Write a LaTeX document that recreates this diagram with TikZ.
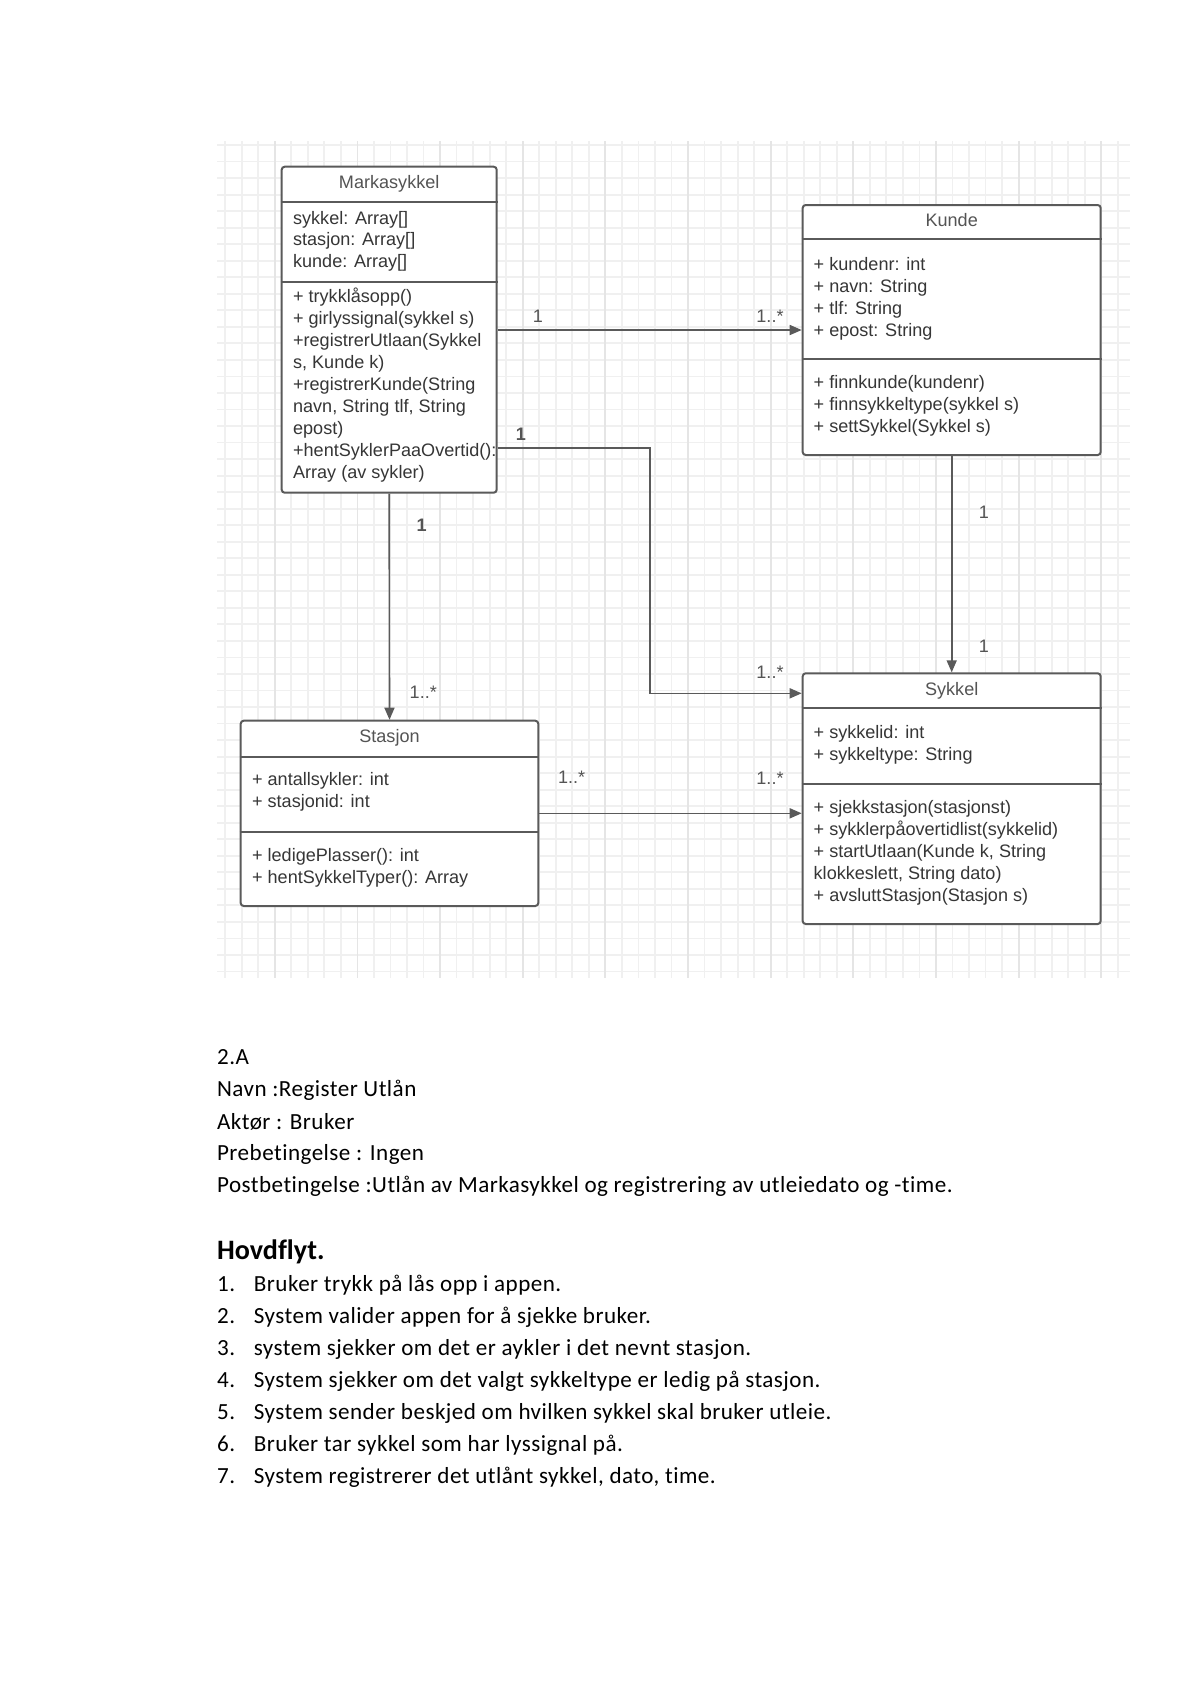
\documentclass[tikz,border=0pt]{standalone}
\usepackage{fontspec}
\setmainfont{Carlito}[Ligatures=NoCommon]
\newfontfamily\bodyfont{Carlito}[LetterSpace=2,Ligatures=NoCommon]
\newfontfamily\umlfont{Liberation Sans}
\usetikzlibrary{fit,arrows.meta}
\definecolor{gridminor}{HTML}{F0F0F0}
\definecolor{gridmajor}{HTML}{E5E5E5}
\definecolor{umlline}{HTML}{5A5A5A}
\definecolor{umltext}{HTML}{363636}

\begin{document}
\begin{tikzpicture}[x=0.0175cm,y=-0.0175cm]
\tikzstyle{classbox}=[draw=umlline,line width=1pt,fill=white,rounded corners=1.5pt,inner sep=0pt]
\tikzstyle{divider}=[draw=umlline,line width=1.1pt]
\tikzstyle{member}=[anchor=base west,inner sep=0pt,text=umltext,font=\umlfont\fontsize{9}{11}\selectfont]
\tikzstyle{classname}=[member,anchor=base,text=umltext!85]
\tikzstyle{multlabel}=[member,anchor=base,text=umltext!85]
\tikzstyle{assoc}=[draw=umlline,line width=0.8pt,-{Triangle[length=6pt,width=5pt]}]
\tikzstyle{doctext}=[anchor=base west,inner sep=0pt,font=\bodyfont\fontsize{11.5}{14}\selectfont]

\fill[white] (0,0) rectangle (1200,1698);
\useasboundingbox (0,0) rectangle (1200,1698);

\begin{scope}
\clip (217,141) rectangle (1130,978);
\foreach \i in {0,...,54} \draw[gridminor,line width=0.9pt] (225.17+16.53*\i,141) -- (225.17+16.53*\i,978);
\foreach \j in {0,...,50} \draw[gridminor,line width=0.9pt] (217,145+16.53*\j) -- (1130,145+16.53*\j);
\foreach \i in {3,8,...,53} \draw[gridmajor,line width=0.9pt] (225.17+16.53*\i,141) -- (225.17+16.53*\i,978);
\end{scope}

\node[classbox,fit={(281.7,166.7) (496.7,492.7)}] (markasykkel) {};
\node[classname] (markname) at (389.2,188.2) {Markasykkel};
\draw[divider] (markasykkel.west |- 0,201.7) -- (markasykkel.east |- 0,201.7);
\draw[divider] (markasykkel.west |- 0,281.7) -- (markasykkel.east |- 0,281.7);
\foreach \t [count=\i from 0] in {sykkel: Array[], stasjon: Array[], kunde: Array[]}
  \node[member] (markattr\i) at (292.7,224+21.7*\i) {\t};
\foreach \t [count=\i from 0] in {{+ trykklåsopp()}, {+ girlyssignal(sykkel s)}, {+registrerUtlaan(Sykkel}, {s, Kunde k)}, {+registrerKunde(String}, {navn, String tlf, String}, {epost)}, {+hentSyklerPaaOvertid():}, {Array (av sykler)}}
  \node[member] (markop\i) at (292.7,302.2+22*\i) {\t};

\node[classbox,fit={(802.7,205) (1100.7,455)}] (kunde) {};
\node[classname] (kundename) at (951.7,226.2) {Kunde};
\draw[divider] (kunde.west |- 0,239.3) -- (kunde.east |- 0,239.3);
\draw[divider] (kunde.west |- 0,359.3) -- (kunde.east |- 0,359.3);
\foreach \t [count=\i from 0] in {{+ kundenr: int}, {+ navn: String}, {+ tlf: String}, {+ epost: String}}
  \node[member] (kundeattr\i) at (813.3,270.5+22*\i) {\t};
\foreach \t [count=\i from 0] in {{+ finnkunde(kundenr)}, {+ finnsykkeltype(sykkel s)}, {+ settSykkel(Sykkel s)}}
  \node[member] (kundeop\i) at (813.3,388.8+22*\i) {\t};

\node[classbox,fit={(802.7,673.3) (1100.7,924)}] (sykkel) {};
\node[classname] (sykkelname) at (951.7,695.5) {Sykkel};
\draw[divider] (sykkel.west |- 0,708.3) -- (sykkel.east |- 0,708.3);
\draw[divider] (sykkel.west |- 0,784) -- (sykkel.east |- 0,784);
\foreach \t [count=\i from 0] in {{+ sykkelid: int}, {+ sykkeltype: String}}
  \node[member] (sykkelattr\i) at (813.3,738.2+22.5*\i) {\t};
\foreach \t [count=\i from 0] in {{+ sjekkstasjon(stasjonst)}, {+ sykklerpåovertidlist(sykkelid)}, {+ startUtlaan(Kunde k, String}, {klokkeslett, String dato)}, {+ avsluttStasjon(Stasjon s)}}
  \node[member] (sykkelop\i) at (813.3,813.8+22*\i) {\t};

\node[classbox,fit={(240.7,720.7) (538.3,906)}] (stasjon) {};
\node[classname] (stasjonname) at (389.5,742.2) {Stasjon};
\draw[divider] (stasjon.west |- 0,756.7) -- (stasjon.east |- 0,756.7);
\draw[divider] (stasjon.west |- 0,831.7) -- (stasjon.east |- 0,831.7);
\foreach \t [count=\i from 0] in {{+ antallsykler: int}, {+ stasjonid: int}}
  \node[member] (stasjonattr\i) at (251.7,785.5+22*\i) {\t};
\foreach \t [count=\i from 0] in {{+ ledigePlasser(): int}, {+ hentSykkelTyper(): Array}}
  \node[member] (stasjonop\i) at (251.7,861.5+22*\i) {\t};

\draw[assoc] (markasykkel.east |- 0,330) -- (kunde.west |- 0,330);
\draw[assoc] (markasykkel.east |- 0,447.7) -- (650,447.7) -- (650,693.3) -- (sykkel.west |- 0,693.3);
\draw[assoc] (kunde.south) -- (sykkel.north);
\draw[assoc] (markasykkel.south) -- (stasjon.north);
\draw[assoc] (stasjon.east |- 0,813.3) -- (sykkel.west |- 0,813.3);

\node[multlabel] (m1) at (538,322.2) {1};
\node[multlabel] (m2) at (770,322.2) {1..*};
\node[multlabel] (m3) at (521,440.5) {\bfseries 1};
\node[multlabel] (m4) at (770,678.8) {1..*};
\node[multlabel] (m5) at (984,518.2) {1};
\node[multlabel] (m6) at (984,652.2) {1};
\node[multlabel] (m7) at (421.7,531.5) {\bfseries 1};
\node[multlabel] (m8) at (423.3,698.8) {1..*};
\node[multlabel] (m9) at (571.7,783.8) {1..*};
\node[multlabel] (m10) at (770,784.8) {1..*};

\node[doctext] (oppg) at (216.7,1064.4) {2.A};
\node[doctext] (navn) at (216.7,1096.9) {Navn :Register Utlån};
\node[doctext] (aktor) at (216.7,1129.4) {Aktør : Bruker};
\node[doctext] (pre) at (216.7,1160.8) {Prebetingelse : Ingen};
\node[doctext] (post) at (216.7,1192.2) {Postbetingelse :Utlån av Markasykkel og registrering av utleiedato og -time.};
\node[doctext,font=\bfseries\fontsize{14}{17}\selectfont] (hovdflyt) at (216.7,1259) {Hovdflyt.};
\foreach \s [count=\i] in {{Bruker trykk på lås opp i appen.}, {System valider appen for å sjekke bruker.}, {system sjekker om det er aykler i det nevnt stasjon.}, {System sjekker om det valgt sykkeltype er ledig på stasjon.}, {System sender beskjed om hvilken sykkel skal bruker utleie.}, {Bruker tar sykkel som har lyssignal på.}, {System registrerer det utlånt sykkel, dato, time.}} {
  \node[doctext] (nr\i) at (216.7,1259+32*\i) {\i.};
  \node[doctext] (flow\i) at (253.5,1259+32*\i) {\s};
}
\end{tikzpicture}
\end{document}
